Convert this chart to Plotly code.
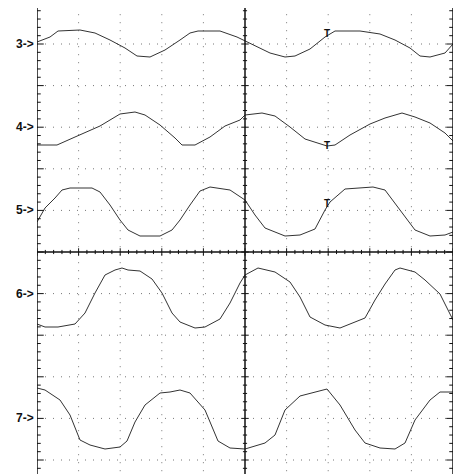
import plotly.graph_objects as go

# Traces (pixel positions in the 474x474 capture)
ch3_x = [37,50,58,80,95,110,125,137,150,165,180,190,198,220,237,250,270,285,295,310,325,335,360,380,395,410,420,430,445,453]
ch3_y = [42,37,31,30,33,40,48,56,57,50,40,33,31,31,37,43,53,57,56,49,37,31,31,34,40,48,56,57,53,44]
ch4_x = [37,57,75,100,120,135,145,160,175,182,195,210,225,240,245,262,275,290,305,327,335,350,370,385,402,415,430,445,453]
ch4_y = [145,145,137,126,114,112,115,125,138,145,145,137,126,120,115,113,116,127,139,146,145,135,124,118,113,117,123,133,141]
ch5_x = [37,45,55,62,70,92,100,110,120,128,140,160,172,180,190,200,210,230,245,255,265,285,300,315,325,330,345,362,373,385,395,405,415,430,445,453]
ch5_y = [222,208,198,190,188,188,192,205,220,230,236,236,230,220,205,191,187,190,200,215,228,236,235,229,210,202,189,188,187,190,203,217,230,236,235,232]
ch6_x = [37,45,58,75,85,95,105,115,122,128,140,152,162,172,180,195,205,220,230,240,245,258,275,290,300,310,325,340,355,365,375,385,395,400,415,425,440,453]
ch6_y = [324,327,327,324,313,293,275,270,268,270,271,279,293,313,322,328,327,319,303,283,275,268,272,282,297,317,325,328,322,318,300,284,270,268,272,280,294,320]
ch7_x = [37,45,60,70,80,90,105,120,127,135,145,160,170,180,190,205,218,230,245,265,275,285,300,315,327,340,355,365,380,395,405,415,430,440,453]
ch7_y = [388,390,400,415,440,445,449,447,441,422,405,393,392,390,393,410,441,448,449,443,435,410,396,392,389,405,430,443,448,449,443,420,400,392,392]
channel_labels = ["3->", "4->", "5->", "6->", "7->"]
channel_levels = [5, 3, 1, -1, -4]

X0, DIV, Y0 = 37.0, 41.6, 252.0
OFF = 8  # page body offset
def dx(v): return [(p - X0) / DIV for p in v]
def dy(v): return [(Y0 - p) / DIV for p in v]

fig = go.Figure()
for xs, ys in [(ch3_x, ch3_y), (ch4_x, ch4_y), (ch5_x, ch5_y), (ch6_x, ch6_y), (ch7_x, ch7_y)]:
    fig.add_trace(go.Scatter(x=dx(xs), y=dy(ys), mode="lines",
                             line=dict(color="#333", width=1), hoverinfo="skip"))

shapes = []
grid = dict(color="#777", width=1, dash="1px,7px")
for i in range(1, 10):
    if i != 5:
        shapes.append(dict(type="line", x0=i, x1=i, y0=-7, y1=7, line=grid, layer="below"))
for j in range(-6, 7):
    if j != 0:
        shapes.append(dict(type="line", x0=0, x1=10, y0=j, y1=j, line=grid, layer="below"))
solid = dict(color="#111", width=1.5)
shapes += [dict(type="line", x0=5, x1=5, y0=-7, y1=7, line=solid),
           dict(type="line", x0=0, x1=10, y0=0, y1=0, line=solid),
           dict(type="line", x0=0, x1=0, y0=-7, y1=7, line=solid),
           dict(type="line", x0=10, x1=10, y0=-7, y1=7, line=solid)]
tk = dict(color="#111", width=1)
for k in range(-35, 36):
    y = k * 0.2
    big = 0.18 if k % 5 == 0 else 0.1
    shapes.append(dict(type="line", x0=5 - big / 2, x1=5 + big / 2, y0=y, y1=y, line=tk))
    shapes.append(dict(type="line", x0=0, x1=big * 0.9, y0=y, y1=y, line=tk))
    shapes.append(dict(type="line", x0=10 - big * 0.9, x1=10, y0=y, y1=y, line=tk))
for k in range(0, 51):
    x = k * 0.2
    big = 0.18 if k % 5 == 0 else 0.1
    shapes.append(dict(type="line", x0=x, x1=x, y0=-big / 2, y1=big / 2, line=tk))

ann = [dict(x=0, y=lv, xref="x", yref="y", text="<b>" + t + "</b>", showarrow=False,
            xanchor="right", xshift=-1, font=dict(size=12, color="#111", family="Liberation Sans"))
       for t, lv in zip(channel_labels, channel_levels)]
for py in [33, 145, 203]:
    ann.append(dict(x=(327 - X0) / DIV, y=(Y0 - py) / DIV, text="<b>T</b>", showarrow=False,
                    font=dict(size=10, color="#111", family="Liberation Sans")))

fig.update_layout(width=474, height=474, margin=dict(l=37 - OFF, r=21 + OFF, t=0, b=0),
                  plot_bgcolor="white", paper_bgcolor="white", showlegend=False,
                  shapes=shapes, annotations=ann,
                  xaxis=dict(range=[0, 10], visible=False, fixedrange=True),
                  yaxis=dict(range=[(Y0 - 474 - OFF) / DIV, (Y0 - OFF) / DIV], visible=False, fixedrange=True))
fig.write_html("out.html")
